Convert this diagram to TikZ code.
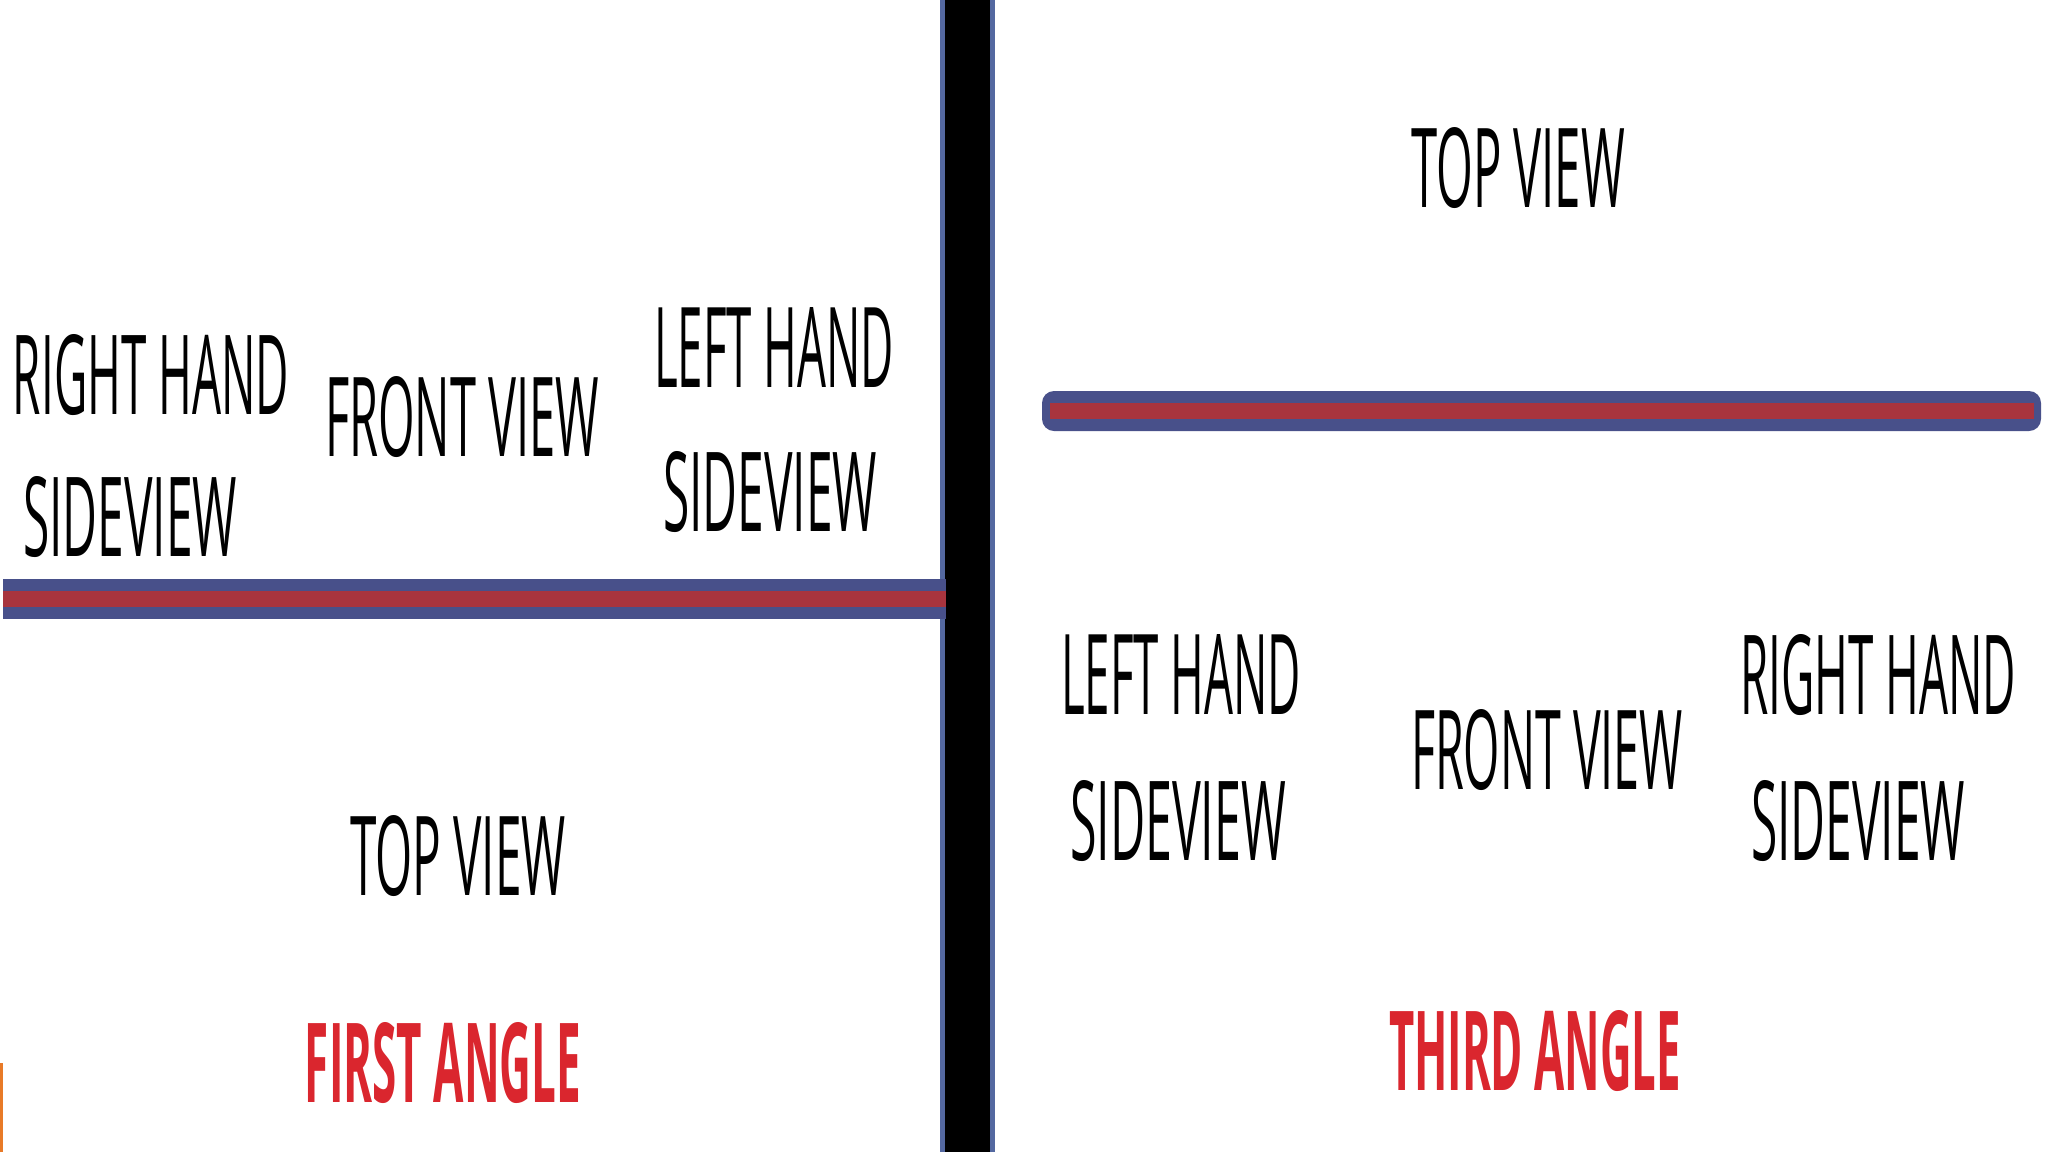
\documentclass[tikz,border=0pt]{standalone}
\usepackage{fontspec}
\setmainfont{Open Sans}
\usepackage{graphicx}
\definecolor{txtred}{RGB}{218,38,46}
\definecolor{lineblue}{RGB}{72,80,138}
\definecolor{linered}{RGB}{168,52,62}
\definecolor{baredge}{RGB}{84,104,160}
\definecolor{markorange}{RGB}{232,122,40}
\newcommand{\lab}[2]{\resizebox{#1pt}{40pt}{#2}}
\tikzset{
  lbl/.style={inner sep=0pt, outer sep=0pt, anchor=base, text=black},
  redlbl/.style={lbl, text=txtred, font=\bfseries},
  outerline/.style={line width=20pt, draw=lineblue},
  innerline/.style={line width=8pt, draw=linered}
}
\begin{document}
\begin{tikzpicture}[x=0.5pt,y=-0.5pt]
\useasboundingbox (0,0) rectangle (2048,1152);
\fill[white] (0,0) rectangle (2048,1152);
% vertical bar
\fill[baredge] (940,0) rectangle (995,1152);
\fill[black] (945,0) rectangle (990,1152);
% left horizontal line
\coordinate (l1) at (3,599);
\coordinate (l2) at (946,599);
\draw[outerline] (l1) -- (l2);
\draw[innerline] (l1) -- (l2);
% right horizontal line (rounded bar)
\coordinate (r1) at (1042,391);
\coordinate (r2) at (2041,431);
\fill[lineblue, rounded corners=6pt] (r1) rectangle (r2);
\coordinate (r3) at (1050,411);
\coordinate (r4) at (2034,411);
\draw[innerline] (r3) -- (r4);
% orange mark
\fill[markorange] (0,1063) rectangle (3,1152);
% first angle labels
\node[lbl] (lrh1) at (151,414) {\lab{138}{RIGHT HAND}};
\node[lbl] (lrh2) at (130,556) {\lab{107}{SIDEVIEW}};
\node[lbl] (lfv)  at (462,456) {\lab{137}{FRONT VIEW}};
\node[lbl] (llh1) at (774,387) {\lab{120}{LEFT HAND}};
\node[lbl] (llh2) at (770,531) {\lab{107}{SIDEVIEW}};
\node[lbl] (ltv)  at (458,895) {\lab{108}{TOP VIEW}};
\node[redlbl] (first) at (443,1102) {\lab{138}{FIRST ANGLE}};
% third angle labels
\node[lbl] (rtv)  at (1518,207) {\lab{107}{TOP VIEW}};
\node[lbl] (rlh1) at (1181,714) {\lab{120}{LEFT HAND}};
\node[lbl] (rlh2) at (1178,860) {\lab{108}{SIDEVIEW}};
\node[lbl] (rfv)  at (1547,789) {\lab{136}{FRONT VIEW}};
\node[lbl] (rrh1) at (1878,714) {\lab{138}{RIGHT HAND}};
\node[lbl] (rrh2) at (1858,860) {\lab{107}{SIDEVIEW}};
\node[redlbl] (third) at (1535,1090) {\lab{146}{THIRD ANGLE}};
\end{tikzpicture}
\end{document}
